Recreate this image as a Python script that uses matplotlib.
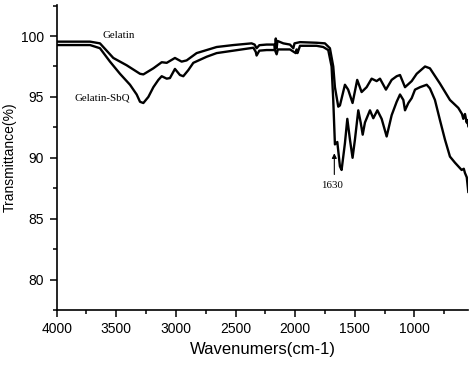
import numpy as np
import matplotlib
matplotlib.use("Agg")
import matplotlib.pyplot as plt
from matplotlib.ticker import MultipleLocator

# FTIR spectra (wavenumber cm-1, transmittance %)
gel_w = [4000, 3720, 3637, 3525, 3413, 3301, 3273, 3189, 3119, 3077, 3008, 2952, 2910,
         2826, 2658, 2518, 2365, 2340, 2323, 2300, 2239, 2175, 2169, 2162, 2155, 2148,
         2099, 2043, 2015, 2005, 1959, 1820, 1750, 1708, 1680, 1666, 1638, 1624, 1582,
         1555, 1518, 1479, 1442, 1400, 1358, 1316, 1288, 1238, 1190, 1148, 1120, 1078,
         1022, 980, 910, 869, 785, 701, 631, 600, 589, 575, 561, 555, 547]
gel_t = [99.54, 99.54, 99.4, 98.2, 97.6, 96.9, 96.85, 97.35, 97.85, 97.8, 98.2, 97.9, 98.0,
         98.6, 99.1, 99.26, 99.4, 99.3, 99.0, 99.25, 99.3, 99.3, 98.9, 99.8, 99.0, 99.6,
         99.4, 99.3, 99.0, 99.4, 99.5, 99.45, 99.4, 99.0, 97.5, 95.8, 94.2, 94.3, 96.0,
         95.6, 94.5, 96.4, 95.4, 95.8, 96.5, 96.3, 96.5, 95.6, 96.4, 96.7, 96.8, 95.8,
         96.3, 96.9, 97.5, 97.35, 96.1, 94.75, 94.1, 93.6, 93.2, 93.6, 92.9, 93.1, 92.6]

sbq_w = [4000, 3720, 3637, 3553, 3469, 3385, 3329, 3301, 3273, 3231, 3189, 3147, 3119,
         3077, 3050, 3008, 2966, 2938, 2896, 2854, 2742, 2658, 2518, 2350, 2330, 2323,
         2300, 2239, 2169, 2155, 2145, 2043, 1995, 1987, 1980, 1959, 1820, 1764, 1722,
         1694, 1680, 1666, 1646, 1624, 1610, 1582, 1562, 1540, 1518, 1498, 1470, 1450,
         1433, 1414, 1372, 1344, 1310, 1274, 1232, 1190, 1148, 1120, 1092, 1078, 1050,
         1022, 994, 952, 896, 869, 827, 785, 743, 701, 659, 603, 585, 575, 560, 547]
sbq_t = [99.26, 99.26, 99.0, 97.9, 96.9, 96.0, 95.2, 94.6, 94.5, 95.0, 95.8, 96.4, 96.7,
         96.5, 96.55, 97.3, 96.8, 96.7, 97.2, 97.8, 98.3, 98.6, 98.8, 99.04, 98.7, 98.4,
         98.8, 98.85, 98.85, 98.5, 98.9, 98.9, 98.6, 98.9, 98.6, 99.2, 99.2, 99.1, 98.85,
         97.5, 94.75, 91.1, 91.3, 89.3, 89.0, 91.2, 93.2, 91.5, 90.0, 91.5, 93.9, 92.9,
         91.9, 92.9, 93.9, 93.25, 93.9, 93.2, 91.75, 93.5, 94.6, 95.2, 94.75, 93.9, 94.5,
         94.9, 95.6, 95.8, 96.0, 95.7, 94.75, 93.1, 91.5, 90.1, 89.6, 89.0, 89.1, 88.75,
         88.4, 87.2]

x_ticks = [4000, 3500, 3000, 2500, 2000, 1500, 1000]
y_ticks = [80, 85, 90, 95, 100]

fig = plt.figure(figsize=(4.74, 3.65), dpi=100)
ax = fig.add_axes([0.1196, 0.1507, 0.8684, 0.8356])

ax.plot(gel_w, gel_t, color="black", lw=1.7)
ax.plot(sbq_w, sbq_t, color="black", lw=1.7)

ax.set_xlim(4000, 547)
ax.set_ylim(77.5, 102.55)
ax.set_xticks(x_ticks)
ax.set_yticks(y_ticks)
ax.xaxis.set_minor_locator(MultipleLocator(250))
ax.yaxis.set_minor_locator(MultipleLocator(2.5))
ax.tick_params(which="major", direction="out", length=5, width=1.1, labelsize=10, pad=4)
ax.tick_params(which="minor", direction="out", length=3, width=1.1)
for lab in ax.get_xticklabels() + ax.get_yticklabels():
    lab.set_family("Liberation Sans")

for side in ["top", "right"]:
    ax.spines[side].set_visible(False)
for side in ["left", "bottom"]:
    ax.spines[side].set_linewidth(1.2)

ax.set_xlabel("Wavenumers(cm-1)", family="Liberation Sans", fontsize=12, labelpad=4)
ax.set_ylabel("Transmittance(%)", family="Liberation Sans", fontsize=10, labelpad=3)

ax.text(3480, 100.05, "Gelatin", family="Liberation Serif", fontsize=7.8, ha="center", va="center")
ax.text(3615, 94.9, "Gelatin-SbQ", family="Liberation Serif", fontsize=7.8, ha="center", va="center")

ax.annotate("", xy=(1671, 90.6), xytext=(1671, 88.4),
            arrowprops=dict(arrowstyle="-|>", color="black", lw=0.8, mutation_scale=7))
ax.text(1690, 87.7, "1630", family="Liberation Serif", fontsize=7.8, ha="center", va="center")

fig.savefig("out.png", dpi=100)
